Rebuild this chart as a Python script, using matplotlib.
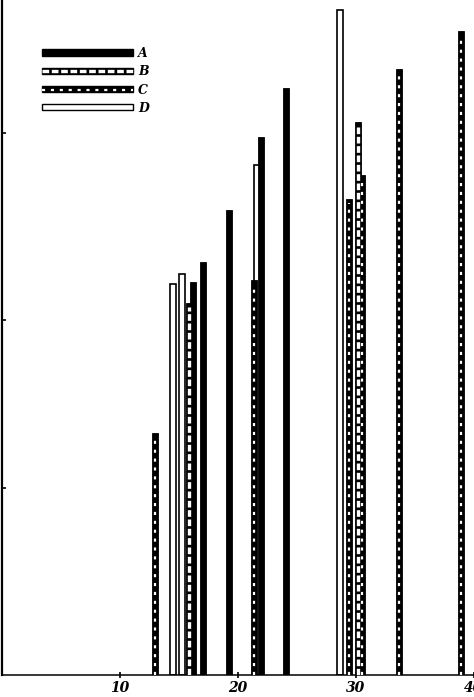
import matplotlib
matplotlib.use("Agg")
import matplotlib.pyplot as plt
from matplotlib.patches import Patch
from matplotlib.lines import Line2D
from matplotlib.legend_handler import HandlerTuple

# ---- data ----
series_names = ["A", "B", "C", "D"]
a_pos = [16.2, 17.0, 19.2, 21.95, 24.05]
a_val = [58.2, 61.2, 68.9, 79.7, 87.0]
b_pos = [15.85, 30.15]
b_val = [55.1, 81.9]
c_pos = [13.0, 21.35, 29.4, 30.5, 33.65, 38.9]
c_val = [35.9, 58.5, 70.5, 74.1, 89.8, 95.4]
d_pos = [14.5, 15.25, 21.6, 28.65]
d_val = [57.9, 59.4, 75.6, 98.5]
x_ticks = [10, 20, 30, 40]
x_tick_labels = ["10", "20", "30", "40"]
y_marks = [27.7, 52.6, 80.3]

W = 0.5

fig = plt.figure(figsize=(4.74, 6.97), dpi=100)
ax = fig.add_axes([2 / 474, 22 / 697, 472 / 474, 675 / 697])
ax.set_xlim(0, 40)
ax.set_ylim(0, 100)

# A: solid black
ax.bar(a_pos, a_val, width=W, color="black", edgecolor="black", linewidth=0.6, zorder=3)
# D: white with black outline
ax.bar(d_pos, d_val, width=W, color="white", edgecolor="black", linewidth=1.2, zorder=2)
# B: black with long white dashes
ax.bar(b_pos, b_val, width=W, color="black", edgecolor="black", linewidth=0.6, zorder=3)
ax.vlines(b_pos, 0, [v - 0.6 for v in b_val], colors="white", linewidth=2.4,
          linestyles=(0, (2.0, 0.8)), zorder=4)
# C: black with white dots
ax.bar(c_pos, c_val, width=W, color="black", edgecolor="black", linewidth=0.6, zorder=3)
ax.vlines(c_pos, 0, [v - 0.6 for v in c_val], colors="white", linewidth=1.6,
          linestyles=(0, (1.4, 2.6)), zorder=4)

# axes styling
for s in ["top", "right"]:
    ax.spines[s].set_visible(False)
ax.spines["left"].set_linewidth(1.6)
ax.spines["bottom"].set_linewidth(1.1)
ax.set_xticks(x_ticks)
ax.set_xticklabels(x_tick_labels, fontfamily="DejaVu Serif", fontweight="bold",
                   fontstyle="italic", fontsize=10)
ax.tick_params(axis="x", direction="inout", length=4, width=1.2, pad=2)
ax.set_yticks(y_marks)
ax.set_yticklabels([])
ax.tick_params(axis="y", direction="in", length=3, width=1.2)

# legend
hA = Patch(facecolor="black", edgecolor="black")
hB = (Patch(facecolor="black", edgecolor="black"),
      Line2D([], [], color="white", linewidth=2.4, linestyle=(0, (2.0, 0.8))))
hC = (Patch(facecolor="black", edgecolor="black"),
      Line2D([], [], color="white", linewidth=1.6, linestyle=(0, (1.4, 2.6))))
hD = Patch(facecolor="white", edgecolor="black", linewidth=1.0)
leg = ax.legend([hA, hB, hC, hD], series_names,
                handler_map={tuple: HandlerTuple(ndivide=1)},
                loc="upper left", bbox_to_anchor=(40 / 472, 1 - 47 / 675),
                frameon=False, borderpad=0, borderaxespad=0,
                handlelength=7.3, handleheight=0.38, handletextpad=0.4,
                labelspacing=0.42,
                prop={"family": "DejaVu Serif", "style": "italic", "weight": "bold", "size": 9})

fig.savefig("out.png", dpi=100)
